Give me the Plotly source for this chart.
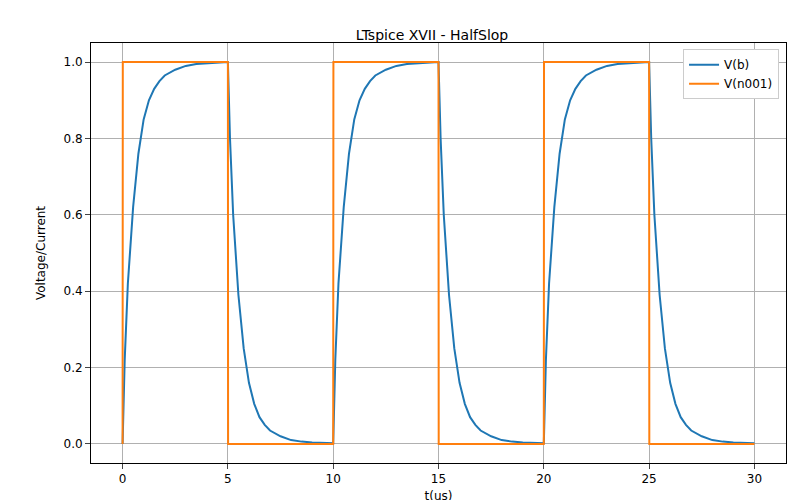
import plotly.graph_objects as go

rise_t = [0, 0.1, 0.25, 0.5, 0.75, 1.0, 1.25, 1.5, 1.75, 2.0, 2.5, 3.0, 3.5, 4.0, 4.5, 5.0]
rise_v = [0, 0.22, 0.42, 0.62, 0.76, 0.85, 0.9, 0.93, 0.95, 0.965, 0.98, 0.99, 0.995, 0.997, 0.999, 1.0]
fall_t = [0, 0.1, 0.25, 0.5, 0.75, 1.0, 1.25, 1.5, 1.75, 2.0, 2.5, 3.0, 3.5, 4.0, 4.5, 5.0]
fall_v = [1.0, 0.8, 0.6, 0.39, 0.25, 0.16, 0.105, 0.07, 0.05, 0.035, 0.02, 0.01, 0.006, 0.004, 0.003, 0.002]
periods = [0, 10, 20]

vb_t, vb_v = [], []
for p in periods:
    vb_t += [p + t for t in rise_t]; vb_v += rise_v
    vb_t += [p + 5 + t for t in fall_t[1:]]; vb_v += fall_v[1:]

sq_t = [0, 0.01, 5, 5.01, 10, 10.01, 15, 15.01, 20, 20.01, 25, 25.01, 30]
sq_v = [0, 1, 1, 0, 0, 1, 1, 0, 0, 1, 1, 0, 0]

fig = go.Figure()
fig.add_trace(go.Scatter(x=vb_t, y=vb_v, mode="lines", name="V(b)", line=dict(color="#1f77b4", width=2)))
fig.add_trace(go.Scatter(x=sq_t, y=sq_v, mode="lines", name="V(n001)", line=dict(color="#ff7f0e", width=2)))
ax = dict(showline=True, linecolor="black", mirror=True, ticks="outside", showgrid=True, automargin=False,
          gridcolor="#b0b0b0", zeroline=False, tickfont=dict(size=12, color="black"))
fig.update_layout(
    width=800, height=500, plot_bgcolor="white", paper_bgcolor="white",
    font=dict(family="DejaVu Sans", size=12, color="black"),
    title=dict(text="LTspice XVII - HalfSlop", x=0.53, y=0.955, xanchor="center", font=dict(size=14)),
    margin=dict(l=83, r=22, t=35, b=45),
    xaxis=dict(ax, range=[-1.5, 31.5], tickvals=[0, 5, 10, 15, 20, 25, 30],
               title=dict(text="t(us)", standoff=6, font=dict(size=12))),
    yaxis=dict(ax, range=[-0.05, 1.05], tickvals=[0, 0.2, 0.4, 0.6, 0.8, 1.0], tickformat=".1f",
               title=dict(text="Voltage/Current", font=dict(size=12))),
    legend=dict(x=0.99, y=0.985, xanchor="right", yanchor="top", bordercolor="#cccccc", borderwidth=1, bgcolor="white", font=dict(size=12)),
)
fig.write_html("out.html")
